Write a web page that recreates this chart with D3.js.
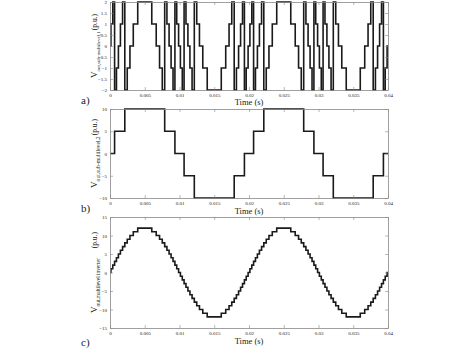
<!DOCTYPE html>
<html>
<head>
<meta charset="utf-8">
<script src="https://cdn.jsdelivr.net/npm/d3@7"></script>
<style>
  body { margin: 0; background: #fff; }
  text { font-family: "Liberation Serif", "Times New Roman", serif; fill: #222; }
</style>
</head>
<body>
<script>
// ---- data ----
var timeTicks = [0, 0.005, 0.01, 0.015, 0.02, 0.025, 0.03, 0.035, 0.04];
var timeTickLabels = ["0", "0.005", "0.01", "0.015", "0.02", "0.025", "0.03", "0.035", "0.04"];

var yTicksA = [2, 1.5, 1, 0.5, 0, -0.5, -1, -1.5, -2];
var yTicksB = [10, 5, 0, -5, -10];
var yTicksC = [15, 10, 5, 0, -5, -10, -15];

// total multilevel inverter output: [switching time (s), level after it]
var outSteps = [
  [0, 0],
  [0.00013, 1], [0.00040, 2], [0.00066, 3], [0.00093, 4], [0.00121, 5], [0.00150, 6],
  [0.00181, 7], [0.00213, 8], [0.00248, 9], [0.00287, 10], [0.00335, 11], [0.00399, 12],
  [0.00601, 11], [0.00665, 10], [0.00713, 9], [0.00752, 8], [0.00787, 7], [0.00819, 6],
  [0.00850, 5], [0.00879, 4], [0.00907, 3], [0.00934, 2], [0.00960, 1], [0.00987, 0],
  [0.01013, -1], [0.01040, -2], [0.01066, -3], [0.01093, -4], [0.01121, -5], [0.01150, -6],
  [0.01181, -7], [0.01213, -8], [0.01248, -9], [0.01287, -10], [0.01335, -11], [0.01399, -12],
  [0.01601, -11], [0.01665, -10], [0.01713, -9], [0.01752, -8], [0.01787, -7], [0.01819, -6],
  [0.01850, -5], [0.01879, -4], [0.01907, -3], [0.01934, -2], [0.01960, -1], [0.01987, 0],
  [0.02013, 1], [0.02040, 2], [0.02066, 3], [0.02093, 4], [0.02121, 5], [0.02150, 6],
  [0.02181, 7], [0.02213, 8], [0.02248, 9], [0.02287, 10], [0.02335, 11], [0.02399, 12],
  [0.02601, 11], [0.02665, 10], [0.02713, 9], [0.02752, 8], [0.02787, 7], [0.02819, 6],
  [0.02850, 5], [0.02879, 4], [0.02907, 3], [0.02934, 2], [0.02960, 1], [0.02987, 0],
  [0.03013, -1], [0.03040, -2], [0.03066, -3], [0.03093, -4], [0.03121, -5], [0.03150, -6],
  [0.03181, -7], [0.03213, -8], [0.03248, -9], [0.03287, -10], [0.03335, -11], [0.03399, -12],
  [0.03601, -11], [0.03665, -10], [0.03713, -9], [0.03752, -8], [0.03787, -7], [0.03819, -6],
  [0.03850, -5], [0.03879, -4], [0.03907, -3], [0.03934, -2], [0.03960, -1], [0.03987, 0]
];

// sub-multilevel inverter 2 (steps of 5)
var sub2Steps = [
  [0, 0], [0.00066, 5], [0.00213, 10], [0.00787, 5], [0.00934, 0],
  [0.01066, -5], [0.01213, -10], [0.01787, -5], [0.01934, 0],
  [0.02066, 5], [0.02213, 10], [0.02787, 5], [0.02934, 0],
  [0.03066, -5], [0.03213, -10], [0.03787, -5], [0.03934, 0]
];

var tEnd = 0.04;

// level of a step series at time t
var levelAt = function(steps, t){
  var v = steps[0][1];
  steps.forEach(function(s){ if (s[0] <= t) v = s[1]; });
  return v;
};

// sub-multilevel inverter 1 = total - sub 2, at every switching instant
var sub1Times = d3.sort(Array.from(new Set(outSteps.map(function(d){ return d[0]; })
                  .concat(sub2Steps.map(function(d){ return d[0]; })))));
var sub1Steps = sub1Times.map(function(t){
  return [t, levelAt(outSteps, t) - levelAt(sub2Steps, t)];
});

var W = 474, H = 352;
var svg = d3.select("body").append("svg")
            .attr("width", W)
            .attr("height", H);

var panels = [
  {top: 2, bottom: 90, ticks: yTicksA, dom: [-2, 2], steps: sub1Steps,
   sub: "out,sub-multilevel,1", subSize: 5, gap: 1, letter: "a)", timeY: 105, letterY: 104},
  {top: 109, bottom: 198, ticks: yTicksB, dom: [-10, 10], steps: sub2Steps,
   sub: "out,sub-multilevel,2", subSize: 5.6, gap: 1, letter: "b)", timeY: 213.5, letterY: 212},
  {top: 217, bottom: 328, ticks: yTicksC, dom: [-15, 15], steps: outSteps,
   sub: "out,multilevel inverter", subSize: 5.4, gap: 10, letter: "c)", timeY: 344, letterY: 346}
];

var left = 110, right = 388;

panels.forEach(function(p){
  var x = d3.scaleLinear().domain([0, tEnd]).range([left, right]);
  var y = d3.scaleLinear().domain(p.dom).range([p.bottom, p.top]);
  var g = svg.append("g");

  // waveform
  var pts = p.steps.concat([[tEnd, p.steps[p.steps.length - 1][1]]]);
  var line = d3.line()
               .x(function(d){ return x(d[0]); })
               .y(function(d){ return y(d[1]); })
               .curve(d3.curveStepAfter);
  g.append("path")
   .datum(pts)
   .attr("d", line)
   .attr("fill", "none")
   .attr("stroke", "#1a1a1a")
   .attr("stroke-width", 1.6);

  // box with inward ticks on all four sides
  var axisStyle = function(sel){
    sel.attr("font-family", "Liberation Serif");
    sel.select(".domain").attr("stroke", "#888").attr("stroke-width", 0.8);
    sel.selectAll(".tick line").attr("stroke", "#888").attr("stroke-width", 0.6);
    sel.selectAll(".tick text").attr("font-size", 5).attr("fill", "#555");
  };
  g.append("g").attr("transform", "translate(0," + p.bottom + ")")
   .call(d3.axisBottom(x).tickValues(timeTicks).tickSizeInner(-3).tickSizeOuter(0).tickPadding(3)
         .tickFormat(function(d, i){ return timeTickLabels[i]; }))
   .call(axisStyle);
  g.append("g").attr("transform", "translate(0," + p.top + ")")
   .call(d3.axisTop(x).tickValues(timeTicks).tickSizeInner(-3).tickSizeOuter(0).tickFormat(""))
   .call(axisStyle);
  g.append("g").attr("transform", "translate(" + left + ",0)")
   .call(d3.axisLeft(y).tickValues(p.ticks).tickSizeInner(-3).tickSizeOuter(0).tickPadding(3)
         .tickFormat(d3.format("")))
   .call(axisStyle);
  g.append("g").attr("transform", "translate(" + right + ",0)")
   .call(d3.axisRight(y).tickValues(p.ticks).tickSizeInner(-3).tickSizeOuter(0).tickFormat(""))
   .call(axisStyle);

  // x label
  g.append("text")
   .attr("x", (left + right) / 2)
   .attr("y", p.timeY)
   .attr("text-anchor", "middle")
   .attr("font-size", 8.5)
   .text("Time (s)");

  // panel letter
  g.append("text")
   .attr("x", 81)
   .attr("y", p.letterY)
   .attr("font-size", 11)
   .text(p.letter);

  // y label: V with subscript and (p.u.)
  var yl = g.append("text")
            .attr("transform", "translate(97," + ((p.top + p.bottom) / 2) + ") rotate(-90)")
            .attr("text-anchor", "middle");
  yl.append("tspan").attr("font-size", 9).text("V");
  yl.append("tspan").attr("font-size", p.subSize).attr("dy", 2.5).text(p.sub);
  yl.append("tspan").attr("font-size", 7.5).attr("dy", -2.5).attr("dx", p.gap).text("(p.u.)");
});
</script>
</body>
</html>
